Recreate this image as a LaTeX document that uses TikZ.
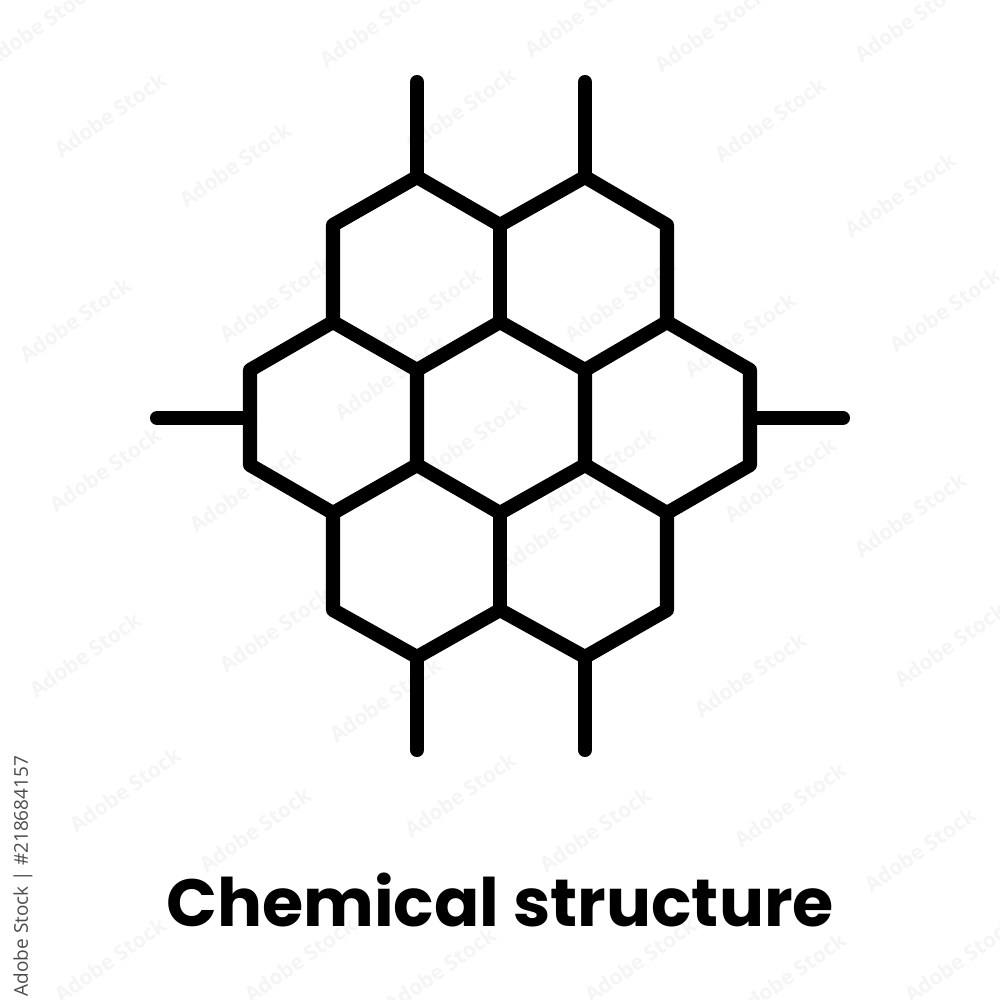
\documentclass[tikz,border=0pt]{standalone}
\usepackage{fontspec}
\newfontfamily\titlefont{Poppins}
\newfontfamily\markfont{Open Sans}
\begin{document}
\begin{tikzpicture}[x=0.01cm,y=0.01cm]
\tikzstyle{every node}+=[inner sep=0pt]
\tikzstyle{bond}=[black, line width=4pt, line cap=round, line join=round]
\tikzstyle{stamp}=[text=black!4, font=\markfont\bfseries\fontsize{6pt}{6pt}\selectfont, rotate=35]
\useasboundingbox (0,-1000) rectangle (1000,0);
\fill [white] (0,-1000) rectangle (1000,0);
% faint marks behind the drawing
\foreach \mx/\my in {40/25,110/115,235/165,375/25,460/110,580/15,710/30,770/120,900/195,910/20,75/320,275/300,425/310,620/300,740/335,945/310,105/470,245/490,390/378,470/440,555/530,600/470,780/480,910/515,85/655,275/630,385/700,750/675,950/645,125/790,255/830,460/795,595/830,790/805,920/850,110/960,300/960,440/970,640/960,790/975,960/960}
  \node [stamp] at (\mx,-\my) {Adobe Stock};
% ring corners
\coordinate (a1) at (417,-177);
\coordinate (a2) at (585,-177);
\coordinate (b1) at (333,-225);
\coordinate (b2) at (500,-225);
\coordinate (b3) at (667,-225);
\coordinate (c1) at (333,-322);
\coordinate (c2) at (500,-322);
\coordinate (c3) at (667,-322);
\coordinate (d1) at (250,-370);
\coordinate (d2) at (417,-370);
\coordinate (d3) at (585,-370);
\coordinate (d4) at (750,-370);
\coordinate (e1) at (250,-465);
\coordinate (e2) at (417,-465);
\coordinate (e3) at (585,-465);
\coordinate (e4) at (750,-465);
\coordinate (f1) at (333,-513);
\coordinate (f2) at (500,-513);
\coordinate (f3) at (667,-513);
\coordinate (g1) at (333,-610);
\coordinate (g2) at (500,-610);
\coordinate (g3) at (667,-610);
\coordinate (h1) at (417,-657);
\coordinate (h2) at (585,-657);
% free ends
\coordinate (t1) at (417,-82);
\coordinate (t2) at (585,-82);
\coordinate (l1) at (157,-418);
\coordinate (l2) at (250,-418);
\coordinate (r1) at (843,-418);
\coordinate (r2) at (750,-418);
\coordinate (u1) at (417,-750);
\coordinate (u2) at (585,-750);
% outer rim
\draw [bond] (a1) -- (b2) -- (a2) -- (b3) -- (c3) -- (d4) -- (e4) -- (f3) -- (g3) -- (h2) -- (g2) -- (h1) -- (g1) -- (f1) -- (e1) -- (d1) -- (c1) -- (b1) -- cycle;
% inner ring
\draw [bond] (c2) -- (d3) -- (e3) -- (f2) -- (e2) -- (d2) -- cycle;
% spokes
\draw [bond] (b2) -- (c2);
\draw [bond] (c1) -- (d2);
\draw [bond] (c3) -- (d3);
\draw [bond] (f1) -- (e2);
\draw [bond] (f3) -- (e3);
\draw [bond] (f2) -- (g2);
% stubs
\draw [bond] (a1) -- (t1);
\draw [bond] (a2) -- (t2);
\draw [bond] (l2) -- (l1);
\draw [bond] (r2) -- (r1);
\draw [bond] (h1) -- (u1);
\draw [bond] (h2) -- (u2);
\node (title) at (500,-900) {\titlefont\bfseries\fontsize{19pt}{20pt}\selectfont Chemical structure};
\node (stock) [rotate=90, text=black!70, font=\markfont\fontsize{5.4pt}{7pt}\selectfont] at (23,-876) {Adobe Stock | \#218684157};
\end{tikzpicture}
\end{document}
